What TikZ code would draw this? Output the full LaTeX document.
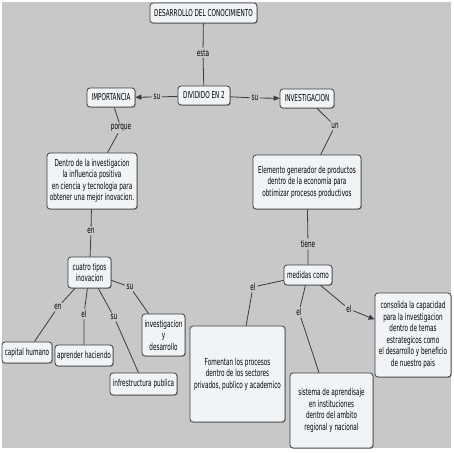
\documentclass[tikz,border=0pt]{standalone}
\usepackage{fontspec}
\setmainfont{DejaVu Sans}[FakeStretch=0.6]
\usetikzlibrary{arrows.meta,shadows}
\definecolor{mapbg}{RGB}{200,200,200}
\definecolor{conceptfill}{RGB}{241,244,247}
\definecolor{linkgray}{RGB}{60,60,60}

\begin{document}
\begin{tikzpicture}[x=1pt,y=-1pt,
    concept/.style={draw=linkgray, line width=0.8pt, rounded corners=3pt, fill=conceptfill, align=center, inner sep=1pt,
      font=\fontsize{9.5}{11.5}\selectfont, drop shadow={shadow xshift=0.8pt, shadow yshift=-0.8pt, opacity=0.7}},
    linkword/.style={inner sep=1.5pt, font=\fontsize{9.5}{11}\selectfont},
    link/.style={draw=linkgray, line width=0.8pt},
    arrow/.style={link, -{Triangle[length=6pt,width=5pt]}}]

    \useasboundingbox (0,0) rectangle (453,453);
    \fill[mapbg] (2,2) rectangle (451,448);

    \node[concept, minimum width=107pt, minimum height=20pt] (desarrollo) at (203.5,13) {DESARROLLO DEL CONOCIMIENTO};
    \node[concept, minimum width=52pt, minimum height=19pt] (dividido) at (204,95.5) {DIVIDIDO EN 2};
    \node[concept, minimum width=48pt, minimum height=19pt] (importancia) at (111,97.5) {IMPORTANCIA};
    \node[concept, minimum width=54pt, minimum height=19pt] (investigacion) at (307,98.5) {INVESTIGACION};
    \node[concept, minimum width=90pt, minimum height=56pt] (dentro) at (92,181) {Dentro de la investigacion\\la influencia positiva\\en ciencia y tecnologia para\\obtener una mejor inovacion.};
    \node[concept, minimum width=43pt, minimum height=31pt] (cuatro) at (89.5,272.5) {cuatro tipos\\inovacion};
    \node[concept, minimum width=108pt, minimum height=54pt] (elemento) at (307,182) {Elemento generador de productos\\dentro de la economia para\\obtimizar procesos productivos};
    \node[concept, minimum width=48pt, minimum height=20pt] (medidas) at (308,275) {medidas como};
    \node[concept, minimum width=50pt, minimum height=21pt] (capital) at (27,352.5) {capital humano};
    \node[concept, minimum width=58pt, minimum height=21pt] (aprender) at (84,355.5) {aprender haciendo};
    \node[concept, minimum width=67pt, minimum height=22pt] (infra) at (143.5,384) {infrestructura publica};
    \node[concept, minimum width=43pt, minimum height=42pt] (invdes) at (163.5,335) {investigacion\\y\\desarrollo};
    \node[concept, minimum width=95pt, minimum height=96pt] (fomentan) at (237.5,374) {Fomentan los procesos\\dentro de los sectores\\privados, publico y academico};
    \node[concept, minimum width=83pt, minimum height=75pt] (sistema) at (331.5,410.5) {sistema de aprendisaje\\en instituciones\\dentro del ambito\\regional y nacional};
    \node[concept, minimum width=76pt, minimum height=84pt] (consolida) at (413,335) {consolida la capacidad\\para la investigacion\\dentro de temas\\estrategicos como\\el desarrollo y beneficio\\de nuestro pais};

    \node[linkword] (esta) at (203,53) {esta};
    \node[linkword] (suimp) at (157,97) {su};
    \node[linkword] (suinv) at (255,98) {su};
    \node[linkword] (porque) at (121,128) {porque};
    \node[linkword] (un) at (335,126) {un};
    \node[linkword] (endentro) at (91,231) {en};
    \node[linkword] (tiene) at (308,244) {tiene};
    \node[linkword] (encapital) at (58,307) {en};
    \node[linkword] (elaprender) at (84,314) {el};
    \node[linkword] (suinfra) at (114,317) {su};
    \node[linkword] (suinvdes) at (130,287) {su};
    \node[linkword] (elfomentan) at (253,287) {el};
    \node[linkword] (elsistema) at (299,312) {el};
    \node[linkword] (elconsolida) at (349,309) {el};

    \draw[link] (desarrollo) -- (esta) -- (dividido);
    \draw[link] (dividido) -- (suimp);
    \draw[arrow] (suimp) -- (importancia);
    \draw[link] (dividido) -- (suinv);
    \draw[arrow] (suinv) -- (investigacion);
    \draw[link] (importancia) -- (porque) -- (dentro);
    \draw[link] (investigacion) -- (un) -- (elemento);
    \draw[link] (dentro) -- (endentro) -- (cuatro);
    \draw[link] (elemento) -- (tiene) -- (medidas);
    \draw[link] (cuatro) -- (encapital) -- (capital);
    \draw[link] (cuatro) -- (elaprender) -- (aprender);
    \draw[link] (cuatro) -- (suinfra) -- (infra);
    \draw[link] (cuatro) -- (suinvdes) -- (invdes);
    \draw[link] (medidas) -- (elfomentan) -- (fomentan);
    \draw[link] (medidas) -- (elsistema) -- (sistema);
    \draw[link] (medidas) -- (elconsolida);
    \draw[arrow] (elconsolida) -- (consolida);
\end{tikzpicture}
\end{document}
